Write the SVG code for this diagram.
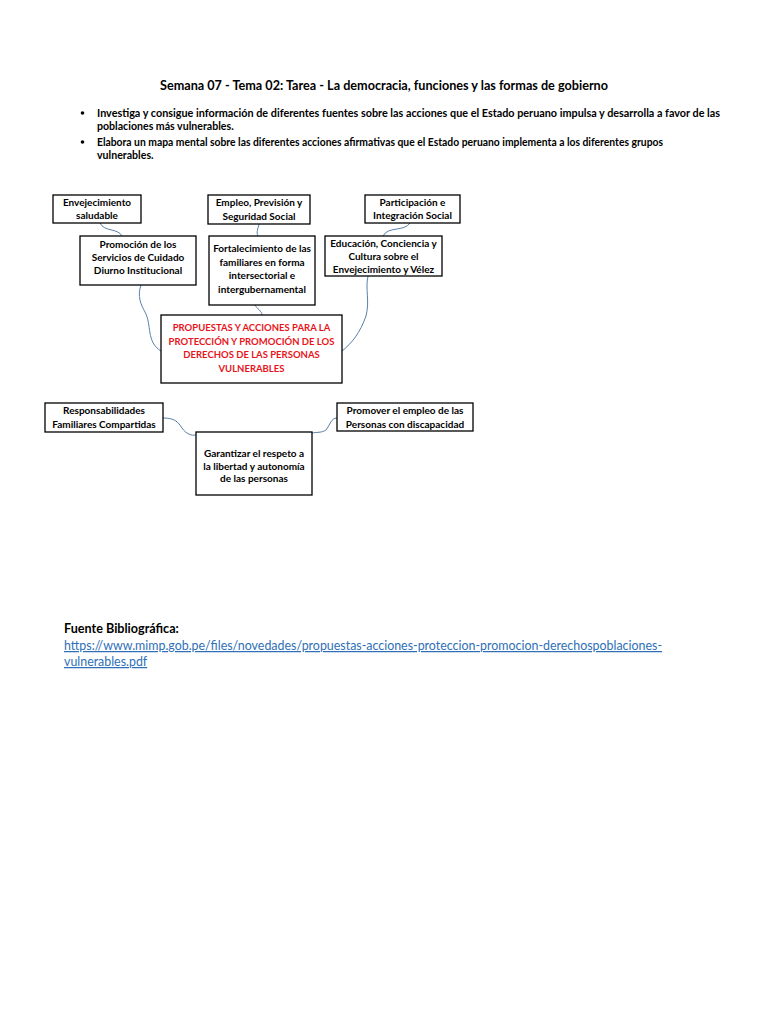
<svg xmlns="http://www.w3.org/2000/svg" width="768" height="1024" viewBox="0 0 768 1024">
<style>
text{font-family:Lato,"Liberation Sans",sans-serif;font-weight:bold;fill:#000}
.box{fill:#fff;stroke:#000;stroke-width:1.3}
.n{font-size:10px;text-anchor:middle}
.red{fill:#e8141c;font-size:9.5px;text-anchor:middle}
.b{font-size:10.6px}
.c{fill:none;stroke:#5a7fa8;stroke-width:1}
.link{fill:#2e6fb8;font-weight:normal;font-size:12.4px;text-decoration:underline}
</style>
<rect width="768" height="1024" fill="#fff"/>
<text x="160" y="90" font-size="12.6" textLength="448" lengthAdjust="spacingAndGlyphs">Semana 07 - Tema 02: Tarea - La democracia, funciones y las formas de gobierno</text>
<circle cx="82.5" cy="113" r="1.8"/>
<circle cx="82.5" cy="142" r="1.8"/>
<text class="b" x="97" y="117" textLength="623" lengthAdjust="spacingAndGlyphs">Investiga y consigue información de diferentes fuentes sobre las acciones que el Estado peruano impulsa y desarrolla a favor de las</text>
<text class="b" x="97" y="130">poblaciones más vulnerables.</text>
<text class="b" x="97" y="146" textLength="566" lengthAdjust="spacingAndGlyphs">Elabora un mapa mental sobre las diferentes acciones afirmativas que el Estado peruano implementa a los diferentes grupos</text>
<text class="b" x="97" y="159">vulnerables.</text>
<g id="connectors">
<path class="c" d="M100,223 C104,232 118,228 122,236"/>
<path class="c" d="M259,224 C258,229 256,232 258,236"/>
<path class="c" d="M410,223 C404,232 388,226 383,236"/>
<path class="c" d="M141,285 C137,296 141,305 145,312 C152,325 146,342 161,351"/>
<path class="c" d="M255,305 C257,309 262,311 262,315"/>
<path class="c" d="M368,276 C365,290 370,300 366,316 C360,333 352,343 342,351"/>
<path class="c" d="M163,418 C175,418 178,422 182,428 C186,434 192,436 196,435"/>
<path class="c" d="M337,418 C331,418 330,425 326,430 C322,433 316,432 312,433"/>
</g>
<g id="n1"><rect class="box" x="53" y="195" width="88" height="28"/><text class="n" x="97" y="206">Envejecimiento</text><text class="n" x="97" y="219">saludable</text></g>
<g id="n2"><rect class="box" x="208" y="195" width="102" height="29"/><text class="n" x="259" y="206">Empleo, Previsión y</text><text class="n" x="259" y="220">Seguridad Social</text></g>
<g id="n3"><rect class="box" x="365" y="195" width="95" height="28"/><text class="n" x="412.5" y="206">Participación e</text><text class="n" x="412.5" y="219">Integración Social</text></g>
<g id="n4"><rect class="box" x="80" y="236" width="116" height="49"/><text class="n" x="138" y="248">Promoción de los</text><text class="n" x="138" y="261">Servicios de Cuidado</text><text class="n" x="138" y="274">Diurno Institucional</text></g>
<g id="n5"><rect class="box" x="209" y="236" width="106" height="69"/><text class="n" x="262" y="252">Fortalecimiento de las</text><text class="n" x="262" y="266">familiares en forma</text><text class="n" x="262" y="279">intersectorial e</text><text class="n" x="262" y="293">intergubernamental</text></g>
<g id="n6"><rect class="box" x="325" y="236" width="117" height="40"/><text class="n" x="383.5" y="247">Educación, Conciencia y</text><text class="n" x="383.5" y="260">Cultura sobre el</text><text class="n" x="383.5" y="273">Envejecimiento y Vélez</text></g>
<g id="n7"><rect class="box" x="161" y="315" width="181" height="68"/><text class="red" x="251.5" y="331">PROPUESTAS Y ACCIONES PARA LA</text><text class="red" x="251.5" y="345">PROTECCIÓN Y PROMOCIÓN DE LOS</text><text class="red" x="251.5" y="358">DERECHOS DE LAS PERSONAS</text><text class="red" x="251.5" y="372">VULNERABLES</text></g>
<g id="n8"><rect class="box" x="45" y="403" width="118" height="29"/><text class="n" x="104" y="414">Responsabilidades</text><text class="n" x="104" y="428">Familiares Compartidas</text></g>
<g id="n9"><rect class="box" x="337" y="403" width="136" height="28"/><text class="n" x="405" y="414">Promover el empleo de las</text><text class="n" x="405" y="428">Personas con discapacidad</text></g>
<g id="n10"><rect class="box" x="196" y="432" width="116" height="63"/><text class="n" x="254" y="457" font-size="8.5">Garantizar el respeto a</text><text class="n" x="254" y="470" font-size="8.5">la libertad y autonomía</text><text class="n" x="254" y="482" font-size="8.5">de las personas</text></g>
<text x="64" y="633" font-size="12.6">Fuente Bibliográfica:</text>
<text class="link" x="64" y="650" textLength="598" lengthAdjust="spacingAndGlyphs">https://www.mimp.gob.pe/files/novedades/propuestas-acciones-proteccion-promocion-derechospoblaciones-</text>
<text class="link" x="64" y="666">vulnerables.pdf</text>
</svg>
